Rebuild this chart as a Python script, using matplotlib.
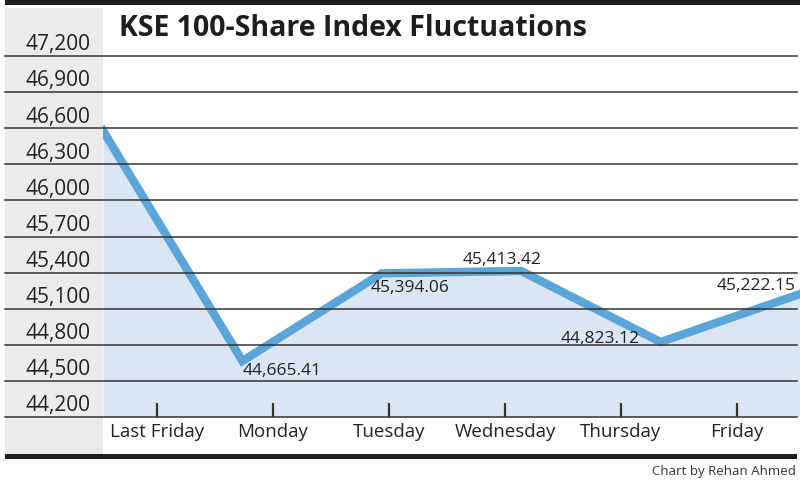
import matplotlib
matplotlib.use("Agg")
import matplotlib.pyplot as plt
from matplotlib.patches import Rectangle
from matplotlib.transforms import ScaledTranslation

# data
days = ["Last Friday", "Monday", "Tuesday", "Wednesday", "Thursday", "Friday"]
index_close = [46580, 44665.41, 45394.06, 45413.42, 44823.12, 45222.15]
value_labels = ["", "44,665.41", "45,394.06", "45,413.42", "44,823.12", "45,222.15"]
y_ticks = [47200, 46900, 46600, 46300, 46000, 45700, 45400, 45100, 44800, 44500, 44200]

plt.rcParams['font.family'] = ['Open Sans', 'DejaVu Sans']
W, H = 800, 480
fig = plt.figure(figsize=(8, 4.8), dpi=100)

# background in pixel coords: grey panel + black bars
bg = fig.add_axes([0, 0, 1, 1], zorder=-1)
bg.set_xlim(0, W)
bg.set_ylim(H, 0)
bg.axis("off")
bg.add_patch(Rectangle((5, 8), 98, 447, color="#ebebeb", lw=0))
bg.add_patch(Rectangle((5, 0), 795, 5, color="#1e1e1e", lw=0))
bg.add_patch(Rectangle((5, 454), 792, 5, color="#1e1e1e", lw=0))
bg.text(796, 471, "Chart by Rehan Ahmed", ha="right", va="center", fontsize=9.5, color="#333333")
bg.text(119, 28, "KSE 100-Share Index Fluctuations", ha="left", va="center",
        fontsize=20.5, fontweight="bold", color="#1e1e1e")

left, right, bottom, top = 103, 800, 417, 8
ax = fig.add_axes([left / W, (H - bottom) / H, (right - left) / W, (bottom - top) / H])
ax.set_facecolor("none")
px_per_300 = 36.1
ax.set_ylim(44200, 44200 + (bottom - top) * 300 / px_per_300)

# category ticks sit on their own spacing
step = 116
first = 157
ax.set_xlim(-(first - left) / step, (right - first) / step)
ax.set_xticks(range(len(days)))
ax.set_xticklabels(days, fontsize=13.5, color="#222222")
ax.tick_params(axis="x", direction="in", length=10, width=1.6, color="#333333", pad=4)

ax.set_yticks(y_ticks)
ax.set_yticklabels([f"{v:,}" for v in y_ticks], fontsize=15, color="#222222", va="bottom")
ax.tick_params(axis="y", length=0, pad=9)
off = ScaledTranslation(0, 0.5 / 72, fig.dpi_scale_trans)
for lab in ax.get_yticklabels():
    lab.set_transform(lab.get_transform() + off)

for s in ax.spines.values():
    s.set_visible(False)

for v in y_ticks:
    ax.axhline(v, xmin=(5 - left) / (right - left), xmax=(797 - left) / (right - left),
               color="#333333", lw=1.1, clip_on=False, zorder=2)

# data on a twin with its own x spacing
axd = ax.twiny()
axd.set_xlim(0, len(days) - 1)
axd.axis("off")
x = list(range(len(days)))
axd.fill_between(x, index_close, 44200, color="#dae6f4", lw=0, zorder=1)
axd.plot(x, index_close, color="#5aa5da", lw=6, solid_joinstyle="miter", zorder=3)

offsets = [(0, 0, "left"), (0, -10, "left"), (-11, -15, "left"),
           (20, 11, "right"), (-21, 3, "right"), (-4, 8, "right")]
for i, lab in enumerate(value_labels):
    if not lab:
        continue
    dx, dy, ha = offsets[i]
    axd.annotate(lab, (x[i], index_close[i]), xytext=(dx, dy), textcoords="offset pixels",
                 ha=ha, va="center", fontsize=12.5, color="#222222", zorder=4)

ax.set_zorder(axd.get_zorder() + 1)
ax.patch.set_visible(False)

fig.savefig("out.png", dpi=100)
